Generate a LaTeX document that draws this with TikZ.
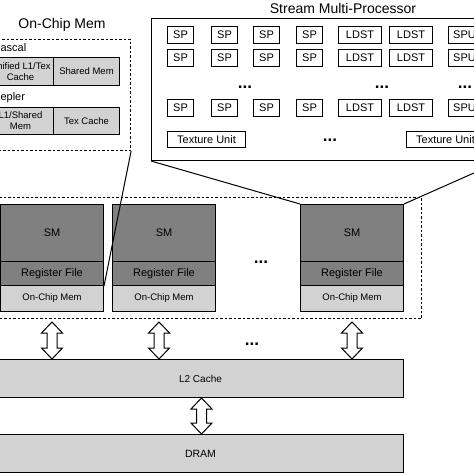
\documentclass[tikz,border=0pt]{standalone}
\usepackage{fontspec}
\setmainfont{Liberation Sans}
\usetikzlibrary{calc}
\definecolor{smgray}{HTML}{808080}
\definecolor{lightgray2}{HTML}{D2D2D2}
\newcommand\fsz[2]{\fontsize{#1}{#2}\selectfont}
\tikzset{
  box/.style={draw, line width=1pt, inner sep=0pt, anchor=north west, align=center},
  dashbox/.style={draw, line width=1.1pt, dash pattern=on 2.5pt off 2pt},
  unit/.style={box, minimum height=17pt, font=\fsz{11}{12}},
  dots/.style={font=\fsz{17}{18}\bfseries, inner sep=0pt},
  dblarr/.style={draw, fill=white, line width=1pt, to path={
    let \p1=(\tikztostart), \p2=(\tikztotarget) in
    (\x1,\y1) -- (\x1+10.5pt,\y1-11pt) -- (\x1+5pt,\y1-11pt) -- (\x1+5pt,\y2+11pt)
    -- (\x1+10.5pt,\y2+11pt) -- (\x1,\y2) -- (\x1-10.5pt,\y2+11pt) -- (\x1-5pt,\y2+11pt)
    -- (\x1-5pt,\y1-11pt) -- (\x1-10.5pt,\y1-11pt) -- cycle}},
  link/.style={draw, line width=1pt}
}
\begin{document}
\begin{tikzpicture}[x=1pt, y=-1pt]
\useasboundingbox (0,0) rectangle (474,474);
\clip (0,0) rectangle (474,474);
\fill[white] (0,0) rectangle (474,474);

% ---------- On-Chip Mem panel ----------
\node[font=\fsz{14}{16}] (octitle) at (62,25) {On-Chip Mem};
\node[dashbox, minimum width=150pt, minimum height=111pt, anchor=north west, inner sep=0pt] (panel) at (-20,39) {};
\node[font=\fsz{11}{12}, anchor=west, inner sep=0pt] (pascal) at (-7,48) {Pascal};
\node[box, fill=lightgray2, minimum width=66pt, minimum height=28pt, font=\fsz{9.5}{11}] (pl) at (-13,57) {Unified L1/Tex\\Cache};
\node[box, fill=lightgray2, minimum width=66pt, minimum height=28pt, font=\fsz{9.5}{11}] (pr) at (53,57) {Shared Mem};
\node[font=\fsz{11}{12}, anchor=west, inner sep=0pt] (kepler) at (-7,98) {Kepler};
\node[box, fill=lightgray2, minimum width=66pt, minimum height=27pt, font=\fsz{9.5}{11}] (kl) at (-13,107) {L1/Shared\\Mem};
\node[box, fill=lightgray2, minimum width=66pt, minimum height=27pt, font=\fsz{9.5}{11}] (kr) at (53,107) {Tex Cache};

% ---------- Stream Multi-Processor panel ----------
\node[font=\fsz{14}{16}] (smptitle) at (343,8) {Stream Multi-Processor};
\node[box, fill=white, minimum width=349pt, minimum height=142pt] (smp) at (151,18) {};
\foreach \r/\yy in {1/26, 2/49, 3/99} {
  \foreach \c/\xx in {1/167, 2/211, 3/253, 4/296} {
    \node[unit, minimum width=26pt] (sp\r\c) at (\xx,\yy) {SP};
  }
  \node[unit, minimum width=43pt] (ld\r1) at (338,\yy) {LDST};
  \node[unit, minimum width=43pt] (ld\r2) at (389,\yy) {LDST};
  \node[unit, minimum width=32pt] (spu\r) at (448,\yy) {SPU};
}
\node[dots] (d1) at (245,87) {...};
\node[dots] (d2) at (382,87) {...};
\node[dots] (d3) at (465,87) {...};
\node[box, minimum width=78pt, minimum height=16pt, font=\fsz{11}{12}] (tu1) at (167,131) {Texture Unit};
\node[box, minimum width=78pt, minimum height=16pt, font=\fsz{11}{12}] (tu2) at (406,131) {Texture Unit};
\node[dots] (d4) at (330,140) {...};

% ---------- SM row ----------
\node[dashbox, minimum width=431pt, minimum height=121pt, anchor=north west, inner sep=0pt] (smrow) at (-10,197) {};
\foreach \i/\xx in {1/0, 2/112, 3/300} {
  \node[box, fill=smgray, minimum width=103pt, minimum height=57pt, font=\fsz{11}{13}] (sm\i) at (\xx,204) {SM};
  \node[box, fill=smgray, minimum width=103pt, minimum height=24pt, font=\fsz{11}{13}] (rf\i) at (\xx,261) {Register File};
  \node[box, fill=lightgray2, minimum width=103pt, minimum height=26pt, font=\fsz{9.5}{11}] (ocm\i) at (\xx,285) {On-Chip Mem};
}
\node[dots] (d5) at (261,262) {...};

% zoom lines
\draw[link] (panel.south east) -- (rf1.south east);
\draw[link] (smp.south west) -- (sm3.north west);
\draw[link] (smp.south east) -- (sm3.north east);

% ---------- L2 and DRAM ----------
\node[box, fill=lightgray2, minimum width=406pt, minimum height=38pt, font=\fsz{10}{12}] (l2) at (-3,359) {L2 Cache};
\node[box, fill=lightgray2, minimum width=406pt, minimum height=38pt, font=\fsz{10.5}{12}] (dram) at (-3,434) {DRAM};

\draw[dblarr] ([shift={(0,10)}]ocm1.south) to (ocm1.south |- l2.north);
\draw[dblarr] ([shift={(-5,10)}]ocm2.south) to ([shift={(-5,0)}]ocm2.south |- l2.north);
\draw[dblarr] ([shift={(0,10)}]ocm3.south) to (ocm3.south |- l2.north);
\node[dots] (d6) at (252,344) {...};
\draw[dblarr] ([shift={(1,0)}]l2.south) to ([shift={(1,0)}]dram.north);
\end{tikzpicture}
\end{document}
